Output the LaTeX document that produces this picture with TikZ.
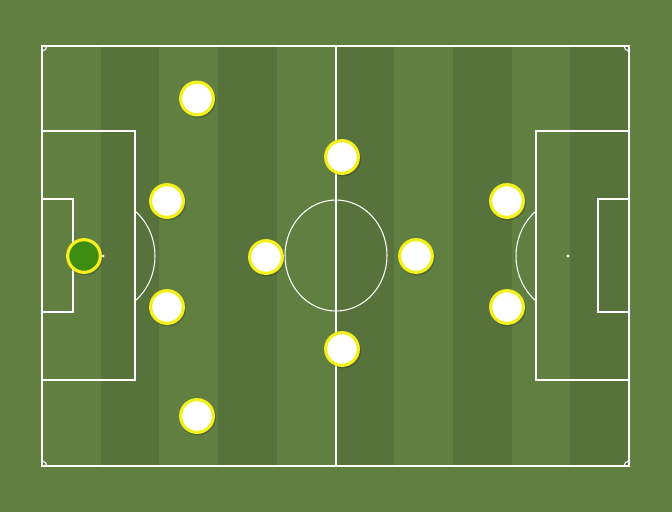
\documentclass[tikz,border=0pt]{standalone}
\usepackage{tikz}

\definecolor{grassLight}{HTML}{627F42}
\definecolor{grassDark}{HTML}{57723B}
\definecolor{kitYellow}{HTML}{F4F01E}
\definecolor{keeperGreen}{HTML}{3E8B12}

\tikzset{
  pitchline/.style={white, line width=0.6pt},
  player/.style={circle, draw=kitYellow, line width=1.8pt, fill=white,
    minimum size=18.6pt, inner sep=0pt},
  keeper/.style={player, fill=keeperGreen},
  shadow/.style={fill=black, opacity=0.18}
}

\begin{document}
\begin{tikzpicture}[x=0.02cm, y=-0.02cm]
    % Background
    \fill[grassLight] (0,0) rectangle (672,512);
    \useasboundingbox (0,0) rectangle (672,512);

    %% Stripes
    \foreach \i in {1,3,5,7,9} {
      \fill[grassDark] ({42+\i*58.7},46) rectangle ({42+(\i+1)*58.7},466);
    }

    % Pitch markings
    \draw[pitchline] (42,46) rectangle (629,466);
    \draw[pitchline] (336,46) -- (336,466);
    \draw[pitchline] (336,255.5) ellipse[x radius=51, y radius=55.5];
    \fill[white] (336,255.5) circle[radius=1.2];

    %% Left side
    \draw[pitchline] (42,131) rectangle (135,380);
    \draw[pitchline] (42,199) rectangle (73,312);
    \fill[white] (103,256) circle[radius=1.6];
    \begin{scope}
      \clip (135,150) rectangle (170,360);
      \draw[pitchline] (103,256) ellipse[x radius=52, y radius=57];
    \end{scope}

    %% Right side
    \draw[pitchline] (536,131) rectangle (629,380);
    \draw[pitchline] (598,199) rectangle (629,312);
    \fill[white] (568,256) circle[radius=1.6];
    \begin{scope}
      \clip (500,150) rectangle (536,360);
      \draw[pitchline] (568,256) ellipse[x radius=52, y radius=57];
    \end{scope}

    %% Corners
    \draw[pitchline] (47,46) arc[start angle=0, end angle=90, radius=5];
    \draw[pitchline] (624,46) arc[start angle=180, end angle=90, radius=5];
    \draw[pitchline] (47,466) arc[start angle=0, end angle=-90, radius=5];
    \draw[pitchline] (624,466) arc[start angle=180, end angle=270, radius=5];

    % Players
    \foreach \name/\px/\py in {lb/197/98.5, lcb/167/201, rcb/167/307, rb/197/416,
        dm/266/257, lm/342/157, rm/342/349, am/416/256, lf/507/201, rf/507/307} {
      \fill[shadow] (\px+1,\py+1.5) circle[radius=18];
      \node[player] (\name) at (\px,\py) {};
    }

    %% Keeper
    \fill[shadow] (85,257.5) circle[radius=18];
    \node[keeper] (gk) at (84,256) {};
\end{tikzpicture}
\end{document}
